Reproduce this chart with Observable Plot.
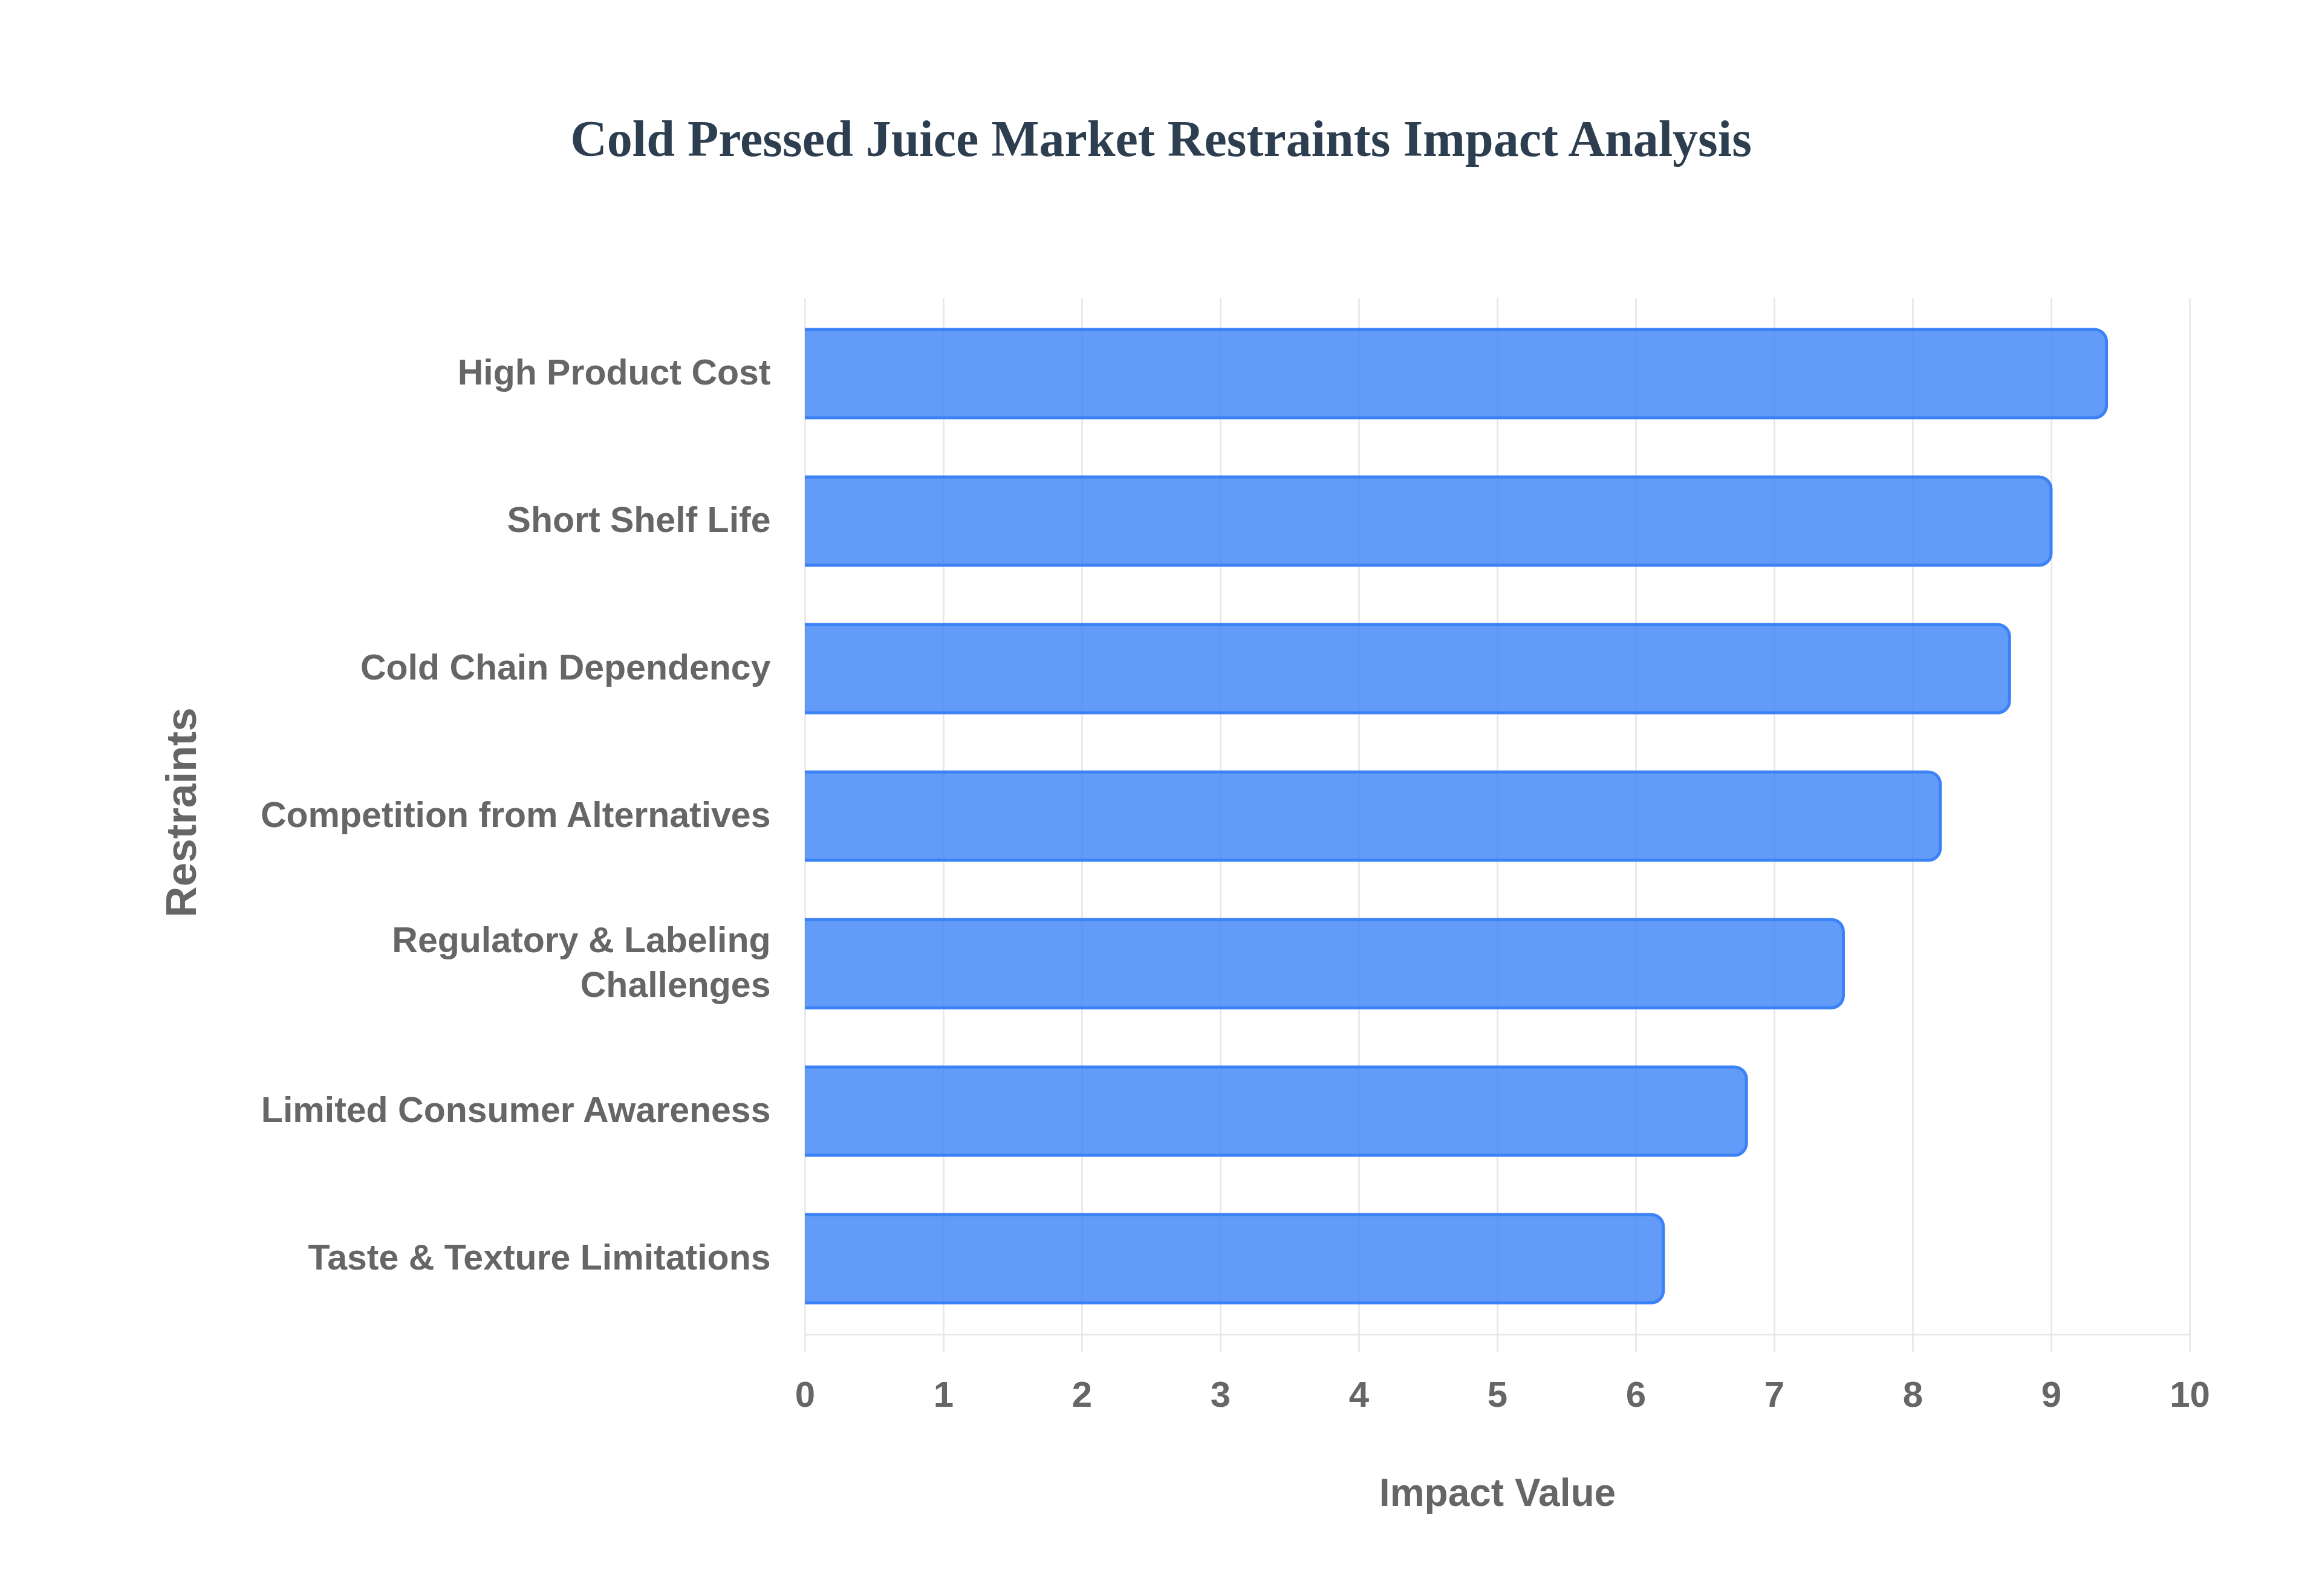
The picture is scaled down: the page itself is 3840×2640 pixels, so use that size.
<!DOCTYPE html>
<html>
<head>
<meta charset="utf-8">
<script src="https://cdn.jsdelivr.net/npm/d3@7"></script>
<script src="https://cdn.jsdelivr.net/npm/@observablehq/plot@0.6"></script>
<style>
  html, body { margin: 0; padding: 0; background: #ffffff; overflow: hidden; }
  #wrap { position: relative; width: 3840px; height: 2640px; }
  #title {
    position: absolute; left: 0; top: 0; width: 3840px;
    text-align: center; padding-top: 188px;
    font-family: "Liberation Serif", "Times New Roman", serif;
    font-weight: bold; font-size: 84px; line-height: 1; color: #2c3e50;
  }
  #chart { position: absolute; left: 0; top: 0; }
</style>
</head>
<body>
<div id="wrap">
  <div id="chart"></div>
  <div id="title">Cold Pressed Juice Market Restraints Impact Analysis</div>
</div>
<script>
const categories = [
  "High Product Cost",
  "Short Shelf Life",
  "Cold Chain Dependency",
  "Competition from Alternatives",
  "Regulatory & Labeling Challenges",
  "Limited Consumer Awareness",
  "Taste & Texture Limitations"
];
const values = [9.4, 9.0, 8.7, 8.2, 7.5, 6.8, 6.2];
const xTicks = [0, 1, 2, 3, 4, 5, 6, 7, 8, 9, 10];
const displayLabels = [
  "High Product Cost",
  "Short Shelf Life",
  "Cold Chain Dependency",
  "Competition from Alternatives",
  "Regulatory & Labeling\nChallenges",
  "Limited Consumer Awareness",
  "Taste & Texture Limitations"
];
const xTitle = "Impact Value";
const yTitle = "Restraints";

const data = categories.map((c, i) => ({cat: c, value: values[i], label: displayLabels[i]}));

const gray = "#666666";
const gridColor = "#e6e6e6";

const chart = Plot.plot({
  width: 3840,
  height: 2640,
  marginLeft: 1331,
  marginRight: 219,
  marginTop: 493,
  marginBottom: 433,
  style: {
    fontFamily: "'Liberation Sans', Arial, Helvetica, sans-serif",
    fontWeight: "bold",
    fontSize: "59px",
    background: "transparent"
  },
  x: {domain: [0, 10]},
  y: {domain: categories, paddingInner: 0.4, paddingOuter: 0.2, axis: null},
  marks: [
    Plot.gridX(xTicks, {stroke: gridColor, strokeOpacity: 1, strokeWidth: 2.5}),
    Plot.frame({anchor: "bottom", stroke: gridColor, strokeOpacity: 1, strokeWidth: 2.5}),
    Plot.barX(data, {
      x: "value", y: "cat",
      fill: "#3b82f6", fillOpacity: 0.8,
      stroke: "#3b82f6", strokeWidth: 5,
      rx: 20, insetLeft: -40, clip: true
    }),
    Plot.axisX(xTicks, {
      tickSize: 29, tickPadding: 48, tickFormat: d3.format("d"),
      stroke: gridColor, strokeWidth: 2.5, strokeOpacity: 1,
      fill: gray, fontSize: 60, label: null
    }),
    Plot.text(data, {
      y: "cat", text: "label", frameAnchor: "left", dx: -57, dy: -6,
      textAnchor: "end", lineHeight: 1.25, fill: gray, fontSize: 59
    }),
    Plot.text([xTitle], {frameAnchor: "bottom", dy: 283, fill: gray, fontSize: 64}),
    Plot.text([yTitle], {frameAnchor: "left", dx: -1030, dy: 167, rotate: -90, fill: gray, fontSize: 71})
  ]
});
document.getElementById("chart").appendChild(chart);
</script>
</body>
</html>
